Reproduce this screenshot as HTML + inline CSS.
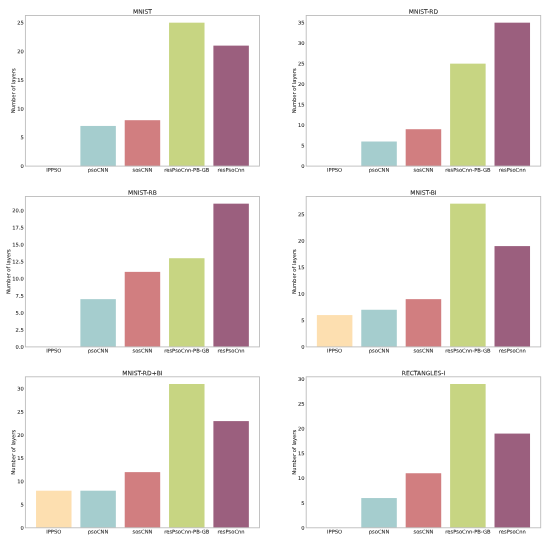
<!DOCTYPE html>
<html><head><meta charset="utf-8"><title>Number of layers</title>
<style>
html,body{margin:0;padding:0;background:#fff;}
svg{display:block;filter:blur(0.3px);}
text{font-family:"DejaVu Sans","Liberation Sans",sans-serif;fill:#1a1a1a;stroke:#1a1a1a;stroke-width:0.06px;}
.t{font-size:6.0px;text-anchor:middle;}
.x{font-size:5.2px;text-anchor:middle;}
.y{font-size:5.2px;text-anchor:end;}
.l{font-size:5.2px;text-anchor:middle;}
</style></head><body>
<svg width="550" height="542" viewBox="0 0 550 542">
<rect width="550" height="542" fill="#fff"/>
<g>
<rect x="80.38" y="125.94" width="35.47" height="40.16" fill="#A5CDCE"/>
<rect x="124.72" y="120.20" width="35.47" height="45.90" fill="#D17E80"/>
<rect x="169.05" y="22.67" width="35.47" height="143.43" fill="#C7D582"/>
<rect x="213.39" y="45.62" width="35.47" height="120.48" fill="#9B5F7E"/>
<rect x="25.40" y="15.50" width="234.10" height="150.60" fill="none" stroke="#bcbcbc" stroke-width="0.9"/>
<text class="t" transform="translate(142.45,13.85) rotate(0.05)">MNIST</text>
<text class="x" transform="translate(53.78,171.70) rotate(0.05)">IPPSO</text>
<text class="x" transform="translate(98.11,171.70) rotate(0.05)">psoCNN</text>
<text class="x" transform="translate(142.45,171.70) rotate(0.05)">sosCNN</text>
<text class="x" transform="translate(186.79,171.70) rotate(0.05)">resPsoCnn-PB-GB</text>
<text class="x" transform="translate(231.12,171.70) rotate(0.05)">resPsoCnn</text>
<text class="y" transform="translate(23.85,168.00) rotate(0.05)">0</text>
<text class="y" transform="translate(23.85,139.31) rotate(0.05)">5</text>
<text class="y" transform="translate(23.85,110.63) rotate(0.05)">10</text>
<text class="y" transform="translate(23.85,81.94) rotate(0.05)">15</text>
<text class="y" transform="translate(23.85,53.26) rotate(0.05)">20</text>
<text class="y" transform="translate(23.85,24.57) rotate(0.05)">25</text>
<text class="l" transform="translate(15.14,90.80) rotate(-89.95)">Number of layers</text>
</g>
<g>
<rect x="361.27" y="141.51" width="35.53" height="24.59" fill="#A5CDCE"/>
<rect x="405.68" y="129.22" width="35.53" height="36.88" fill="#D17E80"/>
<rect x="450.10" y="63.65" width="35.53" height="102.45" fill="#C7D582"/>
<rect x="494.51" y="22.67" width="35.53" height="143.43" fill="#9B5F7E"/>
<rect x="306.20" y="15.50" width="234.50" height="150.60" fill="none" stroke="#bcbcbc" stroke-width="0.9"/>
<text class="t" transform="translate(423.45,13.85) rotate(0.05)">MNIST-RD</text>
<text class="x" transform="translate(334.62,171.70) rotate(0.05)">IPPSO</text>
<text class="x" transform="translate(379.04,171.70) rotate(0.05)">psoCNN</text>
<text class="x" transform="translate(423.45,171.70) rotate(0.05)">sosCNN</text>
<text class="x" transform="translate(467.86,171.70) rotate(0.05)">resPsoCnn-PB-GB</text>
<text class="x" transform="translate(512.28,171.70) rotate(0.05)">resPsoCnn</text>
<text class="y" transform="translate(304.65,168.00) rotate(0.05)">0</text>
<text class="y" transform="translate(304.65,147.51) rotate(0.05)">5</text>
<text class="y" transform="translate(304.65,127.02) rotate(0.05)">10</text>
<text class="y" transform="translate(304.65,106.53) rotate(0.05)">15</text>
<text class="y" transform="translate(304.65,86.04) rotate(0.05)">20</text>
<text class="y" transform="translate(304.65,65.55) rotate(0.05)">25</text>
<text class="y" transform="translate(304.65,45.06) rotate(0.05)">30</text>
<text class="y" transform="translate(304.65,24.57) rotate(0.05)">35</text>
<text class="l" transform="translate(295.94,90.80) rotate(-89.95)">Number of layers</text>
</g>
<g>
<rect x="80.38" y="299.15" width="35.47" height="47.75" fill="#A5CDCE"/>
<rect x="124.72" y="271.87" width="35.47" height="75.03" fill="#D17E80"/>
<rect x="169.05" y="258.23" width="35.47" height="88.67" fill="#C7D582"/>
<rect x="213.39" y="203.66" width="35.47" height="143.24" fill="#9B5F7E"/>
<rect x="25.40" y="196.50" width="234.10" height="150.40" fill="none" stroke="#bcbcbc" stroke-width="0.9"/>
<text class="t" transform="translate(142.45,194.85) rotate(0.05)">MNIST-RB</text>
<text class="x" transform="translate(53.78,352.50) rotate(0.05)">IPPSO</text>
<text class="x" transform="translate(98.11,352.50) rotate(0.05)">psoCNN</text>
<text class="x" transform="translate(142.45,352.50) rotate(0.05)">sosCNN</text>
<text class="x" transform="translate(186.79,352.50) rotate(0.05)">resPsoCnn-PB-GB</text>
<text class="x" transform="translate(231.12,352.50) rotate(0.05)">resPsoCnn</text>
<text class="y" transform="translate(23.85,348.80) rotate(0.05)">0.0</text>
<text class="y" transform="translate(23.85,331.75) rotate(0.05)">2.5</text>
<text class="y" transform="translate(23.85,314.70) rotate(0.05)">5.0</text>
<text class="y" transform="translate(23.85,297.64) rotate(0.05)">7.5</text>
<text class="y" transform="translate(23.85,280.59) rotate(0.05)">10.0</text>
<text class="y" transform="translate(23.85,263.54) rotate(0.05)">12.5</text>
<text class="y" transform="translate(23.85,246.49) rotate(0.05)">15.0</text>
<text class="y" transform="translate(23.85,229.43) rotate(0.05)">17.5</text>
<text class="y" transform="translate(23.85,212.38) rotate(0.05)">20.0</text>
<text class="l" transform="translate(10.17,271.70) rotate(-89.95)">Number of layers</text>
</g>
<g>
<rect x="316.86" y="315.07" width="35.53" height="31.83" fill="#FDDFB0"/>
<rect x="361.27" y="309.76" width="35.53" height="37.14" fill="#A5CDCE"/>
<rect x="405.68" y="299.15" width="35.53" height="47.75" fill="#D17E80"/>
<rect x="450.10" y="203.66" width="35.53" height="143.24" fill="#C7D582"/>
<rect x="494.51" y="246.10" width="35.53" height="100.80" fill="#9B5F7E"/>
<rect x="306.20" y="196.50" width="234.50" height="150.40" fill="none" stroke="#bcbcbc" stroke-width="0.9"/>
<text class="t" transform="translate(423.45,194.85) rotate(0.05)">MNIST-BI</text>
<text class="x" transform="translate(334.62,352.50) rotate(0.05)">IPPSO</text>
<text class="x" transform="translate(379.04,352.50) rotate(0.05)">psoCNN</text>
<text class="x" transform="translate(423.45,352.50) rotate(0.05)">sosCNN</text>
<text class="x" transform="translate(467.86,352.50) rotate(0.05)">resPsoCnn-PB-GB</text>
<text class="x" transform="translate(512.28,352.50) rotate(0.05)">resPsoCnn</text>
<text class="y" transform="translate(304.65,348.80) rotate(0.05)">0</text>
<text class="y" transform="translate(304.65,322.27) rotate(0.05)">5</text>
<text class="y" transform="translate(304.65,295.75) rotate(0.05)">10</text>
<text class="y" transform="translate(304.65,269.22) rotate(0.05)">15</text>
<text class="y" transform="translate(304.65,242.70) rotate(0.05)">20</text>
<text class="y" transform="translate(304.65,216.17) rotate(0.05)">25</text>
<text class="l" transform="translate(295.94,271.70) rotate(-89.95)">Number of layers</text>
</g>
<g>
<rect x="36.04" y="490.69" width="35.47" height="37.11" fill="#FDDFB0"/>
<rect x="80.38" y="490.69" width="35.47" height="37.11" fill="#A5CDCE"/>
<rect x="124.72" y="472.13" width="35.47" height="55.67" fill="#D17E80"/>
<rect x="169.05" y="383.99" width="35.47" height="143.81" fill="#C7D582"/>
<rect x="213.39" y="421.10" width="35.47" height="106.70" fill="#9B5F7E"/>
<rect x="25.40" y="376.80" width="234.10" height="151.00" fill="none" stroke="#bcbcbc" stroke-width="0.9"/>
<text class="t" transform="translate(142.45,375.15) rotate(0.05)">MNIST-RD+BI</text>
<text class="x" transform="translate(53.78,533.40) rotate(0.05)">IPPSO</text>
<text class="x" transform="translate(98.11,533.40) rotate(0.05)">psoCNN</text>
<text class="x" transform="translate(142.45,533.40) rotate(0.05)">sosCNN</text>
<text class="x" transform="translate(186.79,533.40) rotate(0.05)">resPsoCnn-PB-GB</text>
<text class="x" transform="translate(231.12,533.40) rotate(0.05)">resPsoCnn</text>
<text class="y" transform="translate(23.85,529.70) rotate(0.05)">0</text>
<text class="y" transform="translate(23.85,506.50) rotate(0.05)">5</text>
<text class="y" transform="translate(23.85,483.31) rotate(0.05)">10</text>
<text class="y" transform="translate(23.85,460.11) rotate(0.05)">15</text>
<text class="y" transform="translate(23.85,436.92) rotate(0.05)">20</text>
<text class="y" transform="translate(23.85,413.72) rotate(0.05)">25</text>
<text class="y" transform="translate(23.85,390.53) rotate(0.05)">30</text>
<text class="l" transform="translate(15.14,452.30) rotate(-89.95)">Number of layers</text>
</g>
<g>
<rect x="361.27" y="498.05" width="35.53" height="29.75" fill="#A5CDCE"/>
<rect x="405.68" y="473.25" width="35.53" height="54.55" fill="#D17E80"/>
<rect x="450.10" y="383.99" width="35.53" height="143.81" fill="#C7D582"/>
<rect x="494.51" y="433.58" width="35.53" height="94.22" fill="#9B5F7E"/>
<rect x="306.20" y="376.80" width="234.50" height="151.00" fill="none" stroke="#bcbcbc" stroke-width="0.9"/>
<text class="t" transform="translate(423.45,375.15) rotate(0.05)">RECTANGLES-I</text>
<text class="x" transform="translate(334.62,533.40) rotate(0.05)">IPPSO</text>
<text class="x" transform="translate(379.04,533.40) rotate(0.05)">psoCNN</text>
<text class="x" transform="translate(423.45,533.40) rotate(0.05)">sosCNN</text>
<text class="x" transform="translate(467.86,533.40) rotate(0.05)">resPsoCnn-PB-GB</text>
<text class="x" transform="translate(512.28,533.40) rotate(0.05)">resPsoCnn</text>
<text class="y" transform="translate(304.65,529.70) rotate(0.05)">0</text>
<text class="y" transform="translate(304.65,504.91) rotate(0.05)">5</text>
<text class="y" transform="translate(304.65,480.11) rotate(0.05)">10</text>
<text class="y" transform="translate(304.65,455.32) rotate(0.05)">15</text>
<text class="y" transform="translate(304.65,430.52) rotate(0.05)">20</text>
<text class="y" transform="translate(304.65,405.73) rotate(0.05)">25</text>
<text class="y" transform="translate(304.65,380.93) rotate(0.05)">30</text>
<text class="l" transform="translate(295.94,452.30) rotate(-89.95)">Number of layers</text>
</g>
</svg></body></html>
